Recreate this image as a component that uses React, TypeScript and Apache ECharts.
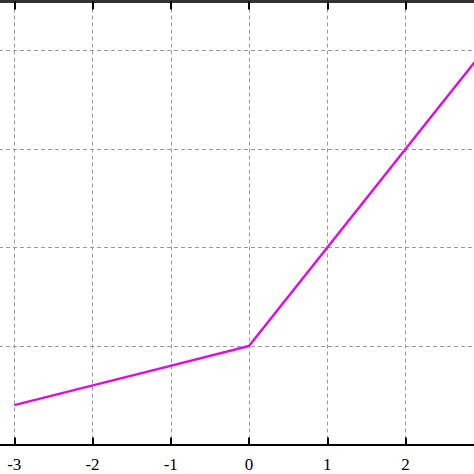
import React, { useEffect, useRef } from 'react'
import * as echarts from 'echarts'

// 分段线性函数 (leaky ReLU, 斜率 0.2)
const xValues = [-3, 0, 3]
const yValues = [-0.6, 0, 3]

const xRange = [-4, 4]
const yRange = [-1, 3.5]
// 窗口里能看到的刻度文字
const xTickLabels = ['-3', '-2', '-1', '0', '1', '2']

const gridStyle = { color: '#9a9a9a', width: 1, type: [4, 3] as number[] }

const App: React.FC = () => {
  const ref = useRef<HTMLDivElement>(null)

  useEffect(() => {
    if (!ref.current) return
    const chart = echarts.init(ref.current, undefined, { renderer: 'svg' })

    chart.setOption({
      animation: false,
      backgroundColor: '#fff',
      // 图表比窗口宽，左右两侧被裁掉
      grid: { left: 16, right: 58, top: 1.5, bottom: 29.5 },
      xAxis: [
        {
          type: 'value',
          min: xRange[0],
          max: xRange[1],
          interval: 1,
          axisLine: { show: true, onZero: false, lineStyle: { color: '#000', width: 2 } },
          axisTick: { show: true, inside: true, length: 7, lineStyle: { color: '#000', width: 2 } },
          axisLabel: {
            show: true,
            formatter: (v: number) => (xTickLabels.includes(String(v)) ? String(v) : ''),
            color: '#000',
            fontFamily: 'Liberation Serif',
            fontSize: 17,
            margin: 11,
          },
          splitLine: { show: true, lineStyle: gridStyle },
        },
        {
          type: 'value',
          position: 'top',
          min: xRange[0],
          max: xRange[1],
          interval: 1,
          axisLine: { show: true, onZero: false, lineStyle: { color: '#333', width: 3 } },
          axisTick: { show: true, inside: true, length: 8, lineStyle: { color: '#000', width: 2 } },
          axisLabel: { show: false },
          splitLine: { show: false },
        },
      ],
      yAxis: {
        type: 'value',
        min: yRange[0],
        max: yRange[1],
        interval: 1,
        axisLine: { show: false },
        axisTick: { show: false },
        axisLabel: { show: false },
        splitLine: { show: true, lineStyle: gridStyle },
      },
      series: [
        {
          type: 'line',
          data: xValues.map((x, i) => [x, yValues[i]]),
          symbol: 'none',
          lineStyle: { color: '#dc10dc', width: 2.5 },
        },
      ],
    })

    return () => chart.dispose()
  }, [])

  return (
    <div
      ref={ref}
      style={{ position: 'fixed', left: -80, top: 0, width: 700, height: 474 }}
    />
  )
}

export default App
